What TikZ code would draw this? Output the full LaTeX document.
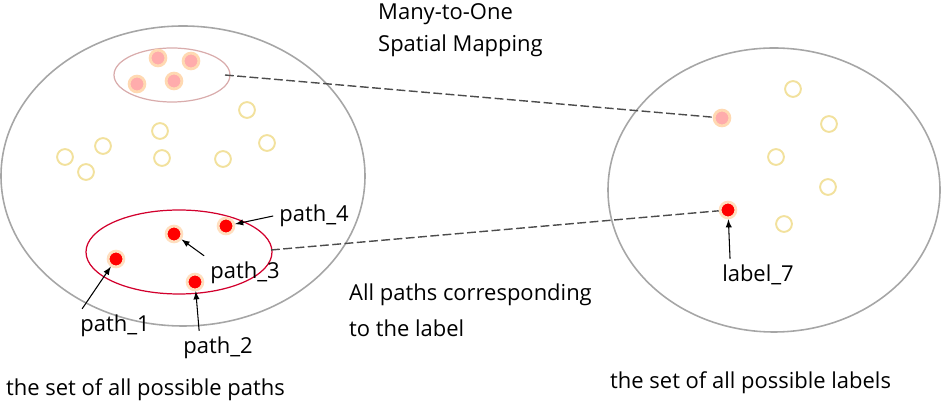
\documentclass[tikz,border=0pt]{standalone}
\usepackage{fontspec}
\setmainfont{Open Sans}
\begin{document}
\begin{tikzpicture}[x=0.02cm,y=-0.02cm,
 big/.style={draw=gray!70,line width=0.9pt},
 ring/.style={circle,draw=yellow!50!brown!45,line width=1.1pt,minimum size=9pt,inner sep=0},
 pinkd/.style={circle,fill=pink!90!red,draw=orange!30,line width=1.6pt,minimum size=9pt,inner sep=0},
 redd/.style={circle,fill=red,draw=orange!25,line width=1.6pt,minimum size=9pt,inner sep=0},
 lab/.style={font=\fontsize{12.5}{15}\selectfont},
 arr/.style={-latex,line width=0.6pt},
 dashline/.style={dash pattern=on 5pt off 2pt,draw=gray!60!black,line width=0.8pt}]
\useasboundingbox (0,0) rectangle (950,411);
\draw[big] (183,176) ellipse [x radius=182, y radius=150];
\draw[big] (774,190) ellipse [x radius=166, y radius=142];
\draw[draw=pink!70!gray,line width=0.7pt] (172,75) ellipse [x radius=58, y radius=27];
\draw[draw=purple!70!red,line width=0.7pt] (179,252) ellipse [x radius=93, y radius=42];
\coordinate (t1) at (225,75); \coordinate (b1) at (271,250);
\foreach \p [count=\i] in {(158,58),(191,61),(137,84),(174,81)} \node[pinkd] (p\i) at \p {};
\foreach \p [count=\i] in {(247,110),(160,131),(103,146),(267,143),(65,157),(86,172),(162,158),(223,159),(793,89),(829,124),(776,157),(828,187),(784,224)} \node[ring] (r\i) at \p {};
\node[redd] (d4) at (226,226) {};
\node[redd] (d3) at (174,234) {};
\node[redd] (d1) at (116,259) {};
\node[redd] (d2) at (195,282) {};
\node[pinkd] (rp) at (722,118) {};
\node[redd] (rd) at (728,210) {};
\node[lab] (l4) at (314,216) {path\_4};
\node[lab] (l3) at (245,273) {path\_3};
\node[lab] (l1) at (115,326) {path\_1};
\node[lab] (l2) at (218,348) {path\_2};
\node[lab] (l7) at (758,275) {label\_7};
\draw[arr] (l4.west) -- (d4);
\draw[arr] (l3.north west) -- (d3);
\draw[arr] (l1.north west) ++(8,0) -- (d1);
\draw[arr] (l2.north west) ++(22,0) -- (d2);
\draw[arr] (l7.north west) ++(14,0) -- (rd);
\draw[dashline] (t1) -- (rp);
\draw[dashline] (b1) -- (rd);
\node[lab,anchor=west] (m1) at (372,14) {Many-to-One};
\node[lab,anchor=west] (m2) at (372,46) {Spatial Mapping};
\node[lab,anchor=west] (a1) at (343,295) {All paths corresponding};
\node[lab,anchor=west] (a2) at (343,328) {to the label};
\node[lab,anchor=west] (s1) at (0,390) {the set of all possible paths};
\node[lab,anchor=west] (s2) at (604,383) {the set of all possible labels};
\end{tikzpicture}
\end{document}
